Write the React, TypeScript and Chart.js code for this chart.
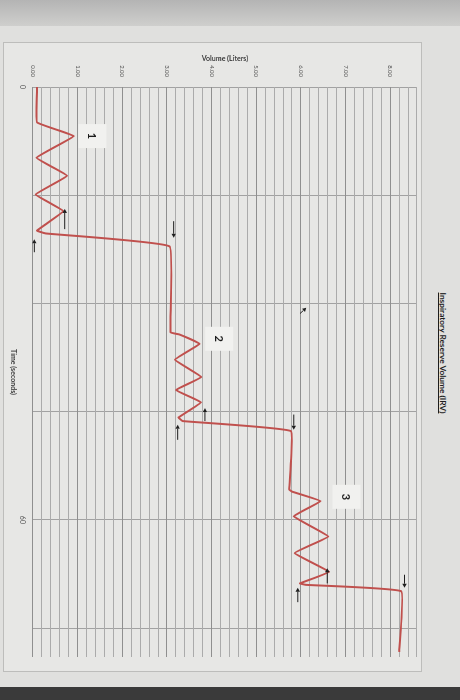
import React, { useEffect, useRef } from "react";
import { Chart, registerables } from "chart.js";

Chart.register(...registerables);

// ---- text ----
const CHART_TITLE = "Inspiratory Reserve Volume (IRV)";
const X_TITLE = "Time (seconds)";
const Y_TITLE = "Volume (Liters)";

// ---- data (time in seconds, volume in liters) ----
const TIME_S = [
  0, 4.9, 6.8, 9.8, 12.3, 14.9, 17.2, 19.9, 20.3, 22.1,
  34.0, 34.3, 35.6, 37.8, 40.2, 42.0, 43.7, 45.8, 46.3, 47.7,
  55.8, 56.1, 57.4, 59.5, 62.3, 64.6, 67.2, 68.8, 69.0, 69.9, 78.3,
];
const VOLUME_L = [
  0.09, 0.09, 0.91, 0.08, 0.76, 0.06, 0.68, 0.09, 0.29, 3.06,
  3.08, 3.28, 3.73, 3.18, 3.77, 3.2, 3.76, 3.26, 3.35, 5.78,
  5.74, 5.81, 6.44, 5.84, 6.61, 5.86, 6.63, 5.98, 6.11, 8.25, 8.2,
];

// ---- axis ticks ----
const X_MIN = 0;
const X_MAX = 79;
const X_STEP = 15;
const X_LABELED = [0, 60];
const Y_MIN = 0;
const Y_MAX = 8.6;
const Y_STEP = 0.2;

// ---- annotations ----
const NOTE_TEXT = ["1", "2", "3"];
const NOTE_T = [6.8, 34.9, 56.8];
const NOTE_V = [1.33, 4.17, 7.02];

const ARROW_TAIL_T = [22.9, 19.7, 18.6, 48.9, 46.3, 45.4, 71.4, 68.8, 67.6, 31.4];
const ARROW_HEAD_T = [21.1, 16.9, 20.9, 46.8, 44.5, 47.5, 69.4, 66.7, 69.4, 30.6];
const ARROW_TAIL_V = [0.03, 0.71, 3.15, 3.24, 3.85, 5.84, 5.93, 6.59, 8.32, 5.98];
const ARROW_HEAD_V = [0.03, 0.71, 3.15, 3.24, 3.85, 5.84, 5.93, 6.59, 8.32, 6.12];

const FONT = "Lato, 'Liberation Sans', sans-serif";

const isInt = (v: number) => Math.abs(v - Math.round(v)) < 1e-6;

const notesPlugin = {
  id: "notes",
  beforeDatasetsDraw(chart: any) {
    const { ctx, scales } = chart;
    const x = scales.x;
    const y = scales.y;
    ctx.save();
    NOTE_TEXT.forEach((txt, i) => {
      const cx = x.getPixelForValue(NOTE_T[i]);
      const cy = y.getPixelForValue(NOTE_V[i]);
      ctx.fillStyle = "#f1f1ef";
      ctx.fillRect(cx - 12, cy - 14, 24, 28);
      ctx.fillStyle = "#1c1c1c";
      ctx.font = `bold 11px ${FONT}`;
      ctx.textAlign = "center";
      ctx.textBaseline = "middle";
      ctx.fillText(txt, cx, cy + 0.5);
    });
    ctx.restore();
  },
  afterDatasetsDraw(chart: any) {
    const { ctx, scales } = chart;
    const x = scales.x;
    const y = scales.y;
    ctx.save();
    ctx.strokeStyle = "#1e1e1e";
    ctx.fillStyle = "#1e1e1e";
    ctx.lineWidth = 1;
    ARROW_TAIL_T.forEach((_, i) => {
      const x0 = x.getPixelForValue(ARROW_TAIL_T[i]);
      const y0 = y.getPixelForValue(ARROW_TAIL_V[i]);
      const x1 = x.getPixelForValue(ARROW_HEAD_T[i]);
      const y1 = y.getPixelForValue(ARROW_HEAD_V[i]);
      const ang = Math.atan2(y1 - y0, x1 - x0);
      const len = Math.hypot(x1 - x0, y1 - y0);
      const hl = Math.min(4, len * 0.45);
      const hw = 2.2;
      const bx = x1 - hl * Math.cos(ang);
      const by = y1 - hl * Math.sin(ang);
      ctx.beginPath();
      ctx.moveTo(x0, y0);
      ctx.lineTo(bx, by);
      ctx.stroke();
      ctx.beginPath();
      ctx.moveTo(x1, y1);
      ctx.lineTo(bx + hw * Math.sin(ang), by - hw * Math.cos(ang));
      ctx.lineTo(bx - hw * Math.sin(ang), by + hw * Math.cos(ang));
      ctx.closePath();
      ctx.fill();
    });
    ctx.restore();
  },
};

function IrvChart() {
  const ref = useRef<HTMLCanvasElement | null>(null);

  useEffect(() => {
    if (!ref.current) return;
    const points = TIME_S.map((t, i) => ({ x: t, y: VOLUME_L[i] }));
    const chart = new Chart(ref.current, {
      type: "line",
      data: {
        datasets: [
          {
            data: points,
            borderColor: "#c0504d",
            borderWidth: 2,
            pointRadius: 0,
            tension: 0.08,
            fill: false,
          },
        ],
      },
      options: {
        animation: false,
        responsive: false,
        maintainAspectRatio: false,
        layout: { padding: { left: 0, right: 43, top: 43, bottom: 0 } },
        plugins: {
          legend: { display: false },
          tooltip: { enabled: false },
          title: { display: false },
        },
        scales: {
          x: {
            type: "linear",
            min: X_MIN,
            max: X_MAX,
            afterFit(s: any) {
              s.height = 33;
            },
            ticks: {
              stepSize: X_STEP,
              includeBounds: false,
              autoSkip: false,
              maxRotation: 0,
              padding: 7,
              color: "#555555",
              font: { family: FONT, size: 7 },
              callback: (v: any) =>
                isInt(Number(v)) && X_LABELED.includes(Math.round(Number(v)))
                  ? String(Math.round(Number(v)))
                  : "",
            },
            grid: { color: "#a2a2a2", lineWidth: 1, drawTicks: false },
            border: { display: false },
            title: {
              display: true,
              text: X_TITLE,
              color: "#3c3c3c",
              font: { family: FONT, size: 7, weight: "bold" },
              padding: { top: 0, bottom: 9 },
            },
          },
          y: {
            type: "linear",
            min: Y_MIN,
            max: Y_MAX,
            afterFit(s: any) {
              s.width = 87;
            },
            ticks: {
              stepSize: Y_STEP,
              includeBounds: false,
              autoSkip: false,
              padding: 10,
              color: "#555555",
              font: { family: FONT, size: 6 },
              callback: (v: any) => (isInt(Number(v)) ? Number(v).toFixed(2) : ""),
            },
            grid: {
              color: (c: any) =>
                c.tick && isInt(c.tick.value) ? "#8f8f8f" : "#ababab",
              lineWidth: 1,
              drawTicks: false,
            },
            border: { display: false },
            title: {
              display: true,
              text: Y_TITLE,
              color: "#3c3c3c",
              font: { family: FONT, size: 7, weight: "bold" },
              padding: { top: 55, bottom: 0 },
            },
          },
        },
      } as any,
      plugins: [notesPlugin as any],
    });
    return () => chart.destroy();
  }, []);

  return (
    <canvas
      ref={ref}
      width={700}
      height={460}
      style={{ position: "absolute", left: 0, top: 0, width: 700, height: 460 }}
    />
  );
}

export default function App() {
  return (
    <div
      style={{
        position: "fixed",
        left: 0,
        top: 0,
        width: 460,
        height: 700,
        overflow: "hidden",
        background: "#e0e0de",
      }}
    >
      <div
        style={{
          position: "absolute",
          left: 0,
          top: 0,
          width: 460,
          height: 26,
          background: "linear-gradient(to bottom, #b4b4b4, #cfcfcd)",
        }}
      />
      <div
        style={{
          position: "absolute",
          left: 0,
          top: 687,
          width: 460,
          height: 13,
          background: "#3a3a3a",
        }}
      />
      <div
        style={{
          position: "absolute",
          left: 0,
          top: 0,
          width: 700,
          height: 460,
          transformOrigin: "0 0",
          transform: "translate(460px, 0px) rotate(90deg)",
        }}
      >
        <div
          style={{
            position: "absolute",
            left: 42,
            top: 38,
            width: 630,
            height: 419,
            border: "1px solid #bdbdbb",
            background: "#e7e7e5",
            boxSizing: "border-box",
          }}
        />
        <div
          style={{
            position: "absolute",
            left: 253,
            width: 200,
            top: 12,
            textAlign: "center",
            fontFamily: FONT,
            fontWeight: "bold",
            fontSize: 8.3,
            lineHeight: "11px",
            color: "#1e1e1e",
            textDecoration: "underline",
            whiteSpace: "nowrap",
          }}
        >
          {CHART_TITLE}
        </div>
        <IrvChart />
      </div>
    </div>
  );
}
